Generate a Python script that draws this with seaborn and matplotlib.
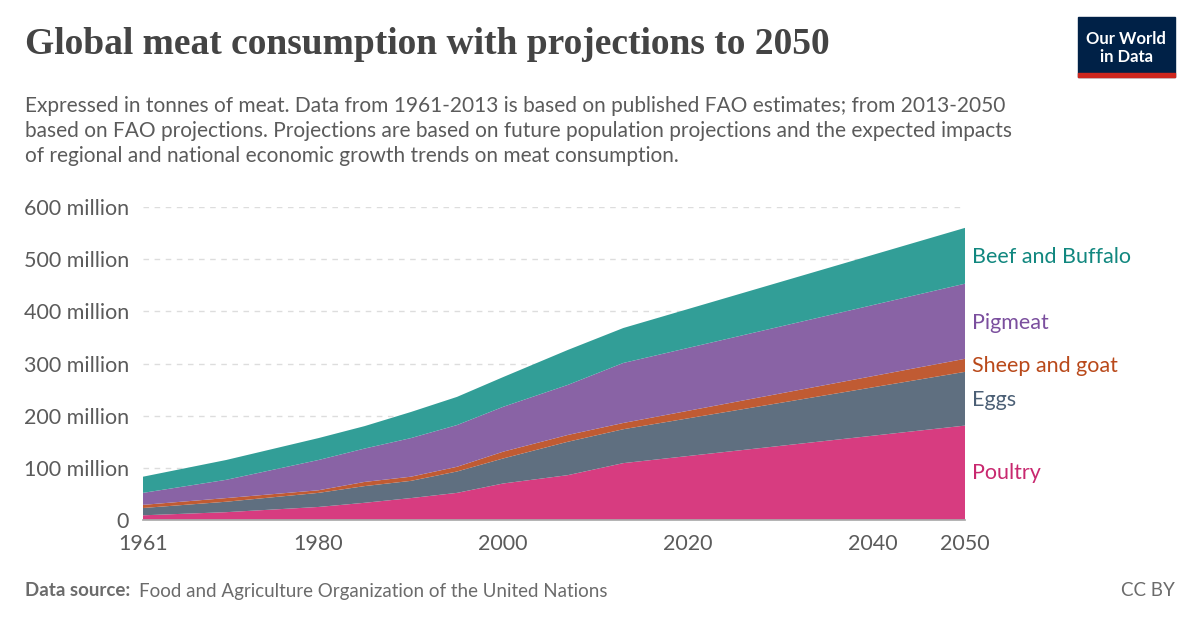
import matplotlib
matplotlib.use('Agg')
import matplotlib.pyplot as plt
import seaborn as sns
import numpy as np
import pandas as pd
from matplotlib.patches import Rectangle

years = [1961, 1970, 1980, 1985, 1990, 1995, 2000, 2007, 2013, 2050]
poultry = [9, 15, 25, 33, 42, 52, 70, 86, 109, 181]
eggs = [14, 20, 27, 32, 33, 41, 48, 64, 65, 103]
sheep = [6, 7, 5, 8, 8, 9, 13, 13, 12, 25]
pigmeat = [23, 35, 58, 64, 74, 80, 86, 96, 115, 144]
beef = [31, 38, 42, 43, 50, 54, 57, 67, 67, 107]

series = ['Poultry', 'Eggs', 'Sheep and goat', 'Pigmeat', 'Beef and Buffalo']
fill_colors = ['#d73c80', '#5f6f80', '#c05b33', '#8963a5', '#329e97']
label_colors = ['#c8286f', '#4b5f75', '#b9491a', '#7b4f9e', '#11877f']

df = pd.DataFrame({'year': years, 'Poultry': poultry, 'Eggs': eggs,
                   'Sheep and goat': sheep, 'Pigmeat': pigmeat,
                   'Beef and Buffalo': beef})

sns.set_theme(style='white')
plt.rcParams['font.family'] = ['Lato', 'DejaVu Sans']

fig = plt.figure(figsize=(12, 6.27), dpi=100)
ax = fig.add_axes([143/1200, 1-520/627, (965-143)/1200, (520-207)/627])

vals = np.vstack([df[s].values for s in series])
ax.stackplot(df['year'], vals, colors=fill_colors, edgecolor='none')

ax.set_xlim(1961, 2050)
ax.set_ylim(0, 600)
ax.set_yticks([0, 100, 200, 300, 400, 500, 600])
ax.set_yticklabels(['0'] + [f'{v} million' for v in [100, 200, 300, 400, 500, 600]],
                   fontsize=15.5, color='#5b5b5b')
ax.set_xticks([1961, 1980, 2000, 2020, 2040, 2050])
ax.set_xticklabels(['1961', '1980', '2000', '2020', '2040', '2050'],
                   fontsize=15.5, color='#5b5b5b')
ax.grid(axis='y', linestyle=(0, (4, 4)), color='#dddddd', linewidth=1)
ax.set_axisbelow(True)
for s in ['top', 'right', 'left']:
    ax.spines[s].set_visible(False)
ax.spines['bottom'].set_color('#aaaaaa')
ax.tick_params(axis='x', length=6, color='#aaaaaa', pad=4)
ax.tick_params(axis='y', length=0, pad=10)

# end labels
for name, c, py in zip(series, label_colors, [473, 400, 366, 323, 257]):
    fig.text(972/1200, 1-py/627, name, color=c, fontsize=15.5, va='center')

fig.text(25/1200, 1-45/627, 'Global meat consumption with projections to 2050',
         family=['Liberation Serif', 'DejaVu Serif'], fontsize=27,
         fontweight='bold', color='#444444', va='center')
fig.text(25/1200, 1-131/627,
         'Expressed in tonnes of meat. Data from 1961-2013 is based on published FAO estimates; from 2013-2050\n'
         'based on FAO projections. Projections are based on future population projections and the expected impacts\n'
         'of regional and national economic growth trends on meat consumption.',
         fontsize=15, color='#5b5b5b', va='center', linespacing=1.3)
fig.text(25/1200, 1-591/627, 'Data source:', fontsize=13.5, color='#6b6b6b',
         va='center', fontweight='bold')
fig.text(139/1200, 1-591/627, 'Food and Agriculture Organization of the United Nations',
         fontsize=13.5, color='#6b6b6b', va='center')
fig.text(1175/1200, 1-591/627, 'CC BY', fontsize=13.5, color='#6b6b6b',
         va='center', ha='right')

# logo
fig.patches.append(Rectangle((1078/1200, 1-77/627), 97/1200, 60/627,
                             transform=fig.transFigure, color='#002147'))
fig.patches.append(Rectangle((1078/1200, 1-77/627), 97/1200, 4/627,
                             transform=fig.transFigure, color='#ce261e'))
fig.text(1126/1200, 1-48/627, 'Our World\nin Data', color='white',
         fontsize=12, fontweight='bold', ha='center', va='center', linespacing=1.1)

fig.savefig('out.png', dpi=100)
